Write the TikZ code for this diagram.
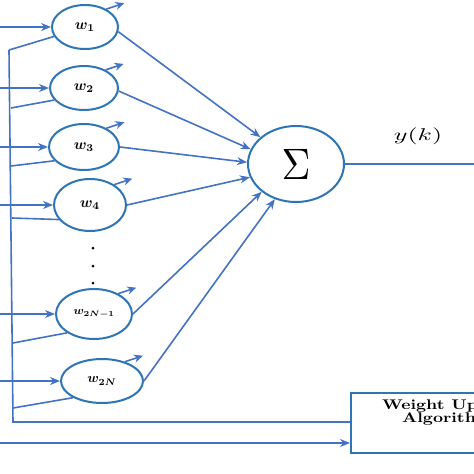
\documentclass[tikz,border=0pt]{standalone}
\usepackage{amsmath,bm}
\usetikzlibrary{arrows.meta,shapes.geometric}
\definecolor{lnc}{RGB}{68,114,196}
\definecolor{elc}{RGB}{46,117,182}
\newcommand{\wlab}[1]{\scalebox{1.5}{$\bm{w}_{\bm{#1}}$}}
\begin{document}
\begin{tikzpicture}[x=1pt,y=-1pt,
  wnode/.style={ellipse,draw=elc,line width=2pt,inner sep=0pt,fill=white},
  conn/.style={draw=lnc,line width=1.6pt},
  arr/.style={conn,-{Stealth[length=10pt,width=8pt]}},
  sarr/.style={conn,-{Stealth[length=9pt,width=8pt]}}]
\useasboundingbox (0,0) rectangle (474,474);
\clip (0,0) rectangle (474,474);
\fill[white] (0,0) rectangle (474,474);
\coordinate (L) at (0,0);
% weight nodes
\node[wnode,minimum width=66pt,minimum height=44pt] (w1) at (85,27) {\wlab{1}};
\node[wnode,minimum width=68pt,minimum height=44pt] (w2) at (84,88) {\wlab{2}};
\node[wnode,minimum width=70pt,minimum height=46pt] (w3) at (84,147) {\wlab{3}};
\node[wnode,minimum width=72pt,minimum height=52pt] (w4) at (90,205) {\wlab{4}};
\node[wnode,minimum width=76pt,minimum height=50pt] (w5) at (94,314) {\scalebox{1.25}[1.1]{$\bm{w}_{\bm{2N-1}}$}};
\node[wnode,minimum width=82pt,minimum height=44pt] (w6) at (102,381) {\scalebox{1.35}[1.35]{$\bm{w}_{\bm{2N}}$}};
% dots
\foreach \yy/\nm in {248/d1,266/d2,283/d3}
  \fill[black] (93,\yy) circle (1.5pt) coordinate (\nm);
% sum
\node[ellipse,draw=elc,line width=2pt,minimum width=96pt,minimum height=76pt,inner sep=0pt] (s) at (296,164) {\scalebox{4.0}[4.4]{$\Sigma$}};
\node (y) at (418,136) {\scalebox{2.6}[1.7]{$y(k)$}};
\coordinate (out) at (480,164);
\draw[conn] (s.east) -- (out);
% weight update box
\node[draw=elc,line width=2pt,minimum width=180pt,minimum height=60pt,anchor=north west,inner sep=0pt] (box) at (350,392) {};
\node[anchor=base west,inner sep=0pt] (wt1) at (382,409) {\scalebox{1.75}[1.4]{\bfseries Weight Update}};
\node[anchor=base west,inner sep=0pt] (wt2) at (402,422) {\scalebox{1.75}[1.4]{\bfseries Algorithm}};
% inputs
\foreach \w in {w1,w2,w3,w4,w5,w6}
  \draw[arr] (\w.west -| L) -- (\w.west);
% sum connections
\draw[arr] (w1.-8) -- (s.143);
\draw[arr] (w2.-5) -- (s.162);
\draw[arr] (w3.east) -- (s.178);
\draw[arr] (w4.east) -- (s.196);
\draw[arr] (w5.east) -- (s.219);
\draw[arr] (w6.east) -- (s.239);
% small adapt arrows
\foreach \w in {w1,w2,w3,w4,w5,w6}
  \draw[sarr] (\w.40) -- ++(18,-6);
% feedback bus
\coordinate (v1) at (9,50);
\coordinate (v2) at (11,108);
\coordinate (v3) at (11,166);
\coordinate (v4) at (12,218);
\coordinate (v5) at (13,343);
\coordinate (v6) at (13,408);
\coordinate (vb) at (13,422);
\draw[conn] (v1) -- (vb) -- (box.west |- vb);
\draw[conn] (v1) -- (w1.197);
\draw[conn] (v2) -- (w2.202);
\draw[conn] (v3) -- (w3.205);
\draw[conn] (v4) -- (w4.205);
\draw[conn] (v5) -- (w5.215);
\draw[conn] (v6) -- (w6.210);
\coordinate (e0) at (0,443);
\draw[arr] (e0) -- (box.west |- e0);
\end{tikzpicture}
\end{document}
